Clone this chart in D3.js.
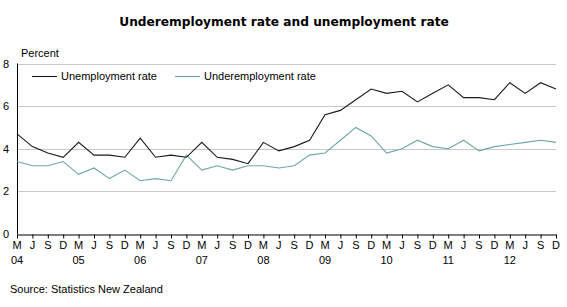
<!DOCTYPE html>
<html>
<head>
<meta charset="utf-8">
<script src="https://cdn.jsdelivr.net/npm/d3@7"></script>
<style>
  body { margin: 0; background: #fff; }
  text { font-family: "Liberation Sans", Arial, sans-serif; font-size: 11px; fill: #000; }
  .title { font-family: "DejaVu Sans", Verdana, sans-serif; font-weight: bold; font-size: 12.2px; }
</style>
</head>
<body>
<svg id="chart" width="567" height="307"></svg>
<script>
  // quarters Mar 2004 .. Dec 2012
  const quarters = ['M', 'J', 'S', 'D'];
  const years = ['04', '05', '06', '07', '08', '09', '10', '11', '12'];
  const yTicks = [0, 2, 4, 6, 8];

  const unemployment = [4.7, 4.1, 3.8, 3.6, 4.3, 3.7, 3.7, 3.6, 4.5, 3.6, 3.7, 3.6,
                        4.3, 3.6, 3.5, 3.3, 4.3, 3.9, 4.1, 4.4, 5.6, 5.8, 6.3, 6.8,
                        6.6, 6.7, 6.2, 6.6, 7.0, 6.4, 6.4, 6.3, 7.1, 6.6, 7.1, 6.8];
  const underemployment = [3.4, 3.2, 3.2, 3.4, 2.8, 3.1, 2.6, 3.0, 2.5, 2.6, 2.5, 3.7,
                           3.0, 3.2, 3.0, 3.2, 3.2, 3.1, 3.2, 3.7, 3.8, 4.4, 5.0, 4.6,
                           3.8, 4.0, 4.4, 4.1, 4.0, 4.4, 3.9, 4.1, 4.2, 4.3, 4.4, 4.3];

  const periods = [];
  years.forEach(y => quarters.forEach(q => periods.push(q + y)));

  const svg = d3.select('#chart');
  const plotLeft = 17, plotRight = 556, plotTop = 63.5, plotBottom = 234;

  const xScale = d3.scalePoint()
    .domain(periods)
    .range([plotLeft, plotRight]);

  const yScale = d3.scaleLinear()
    .domain([0, 8])
    .range([plotBottom, plotTop]);

  svg.append('text')
    .attr('class', 'title')
    .attr('x', 284)
    .attr('y', 26)
    .attr('text-anchor', 'middle')
    .text('Underemployment rate and unemployment rate');

  // gridlines
  svg.append('g')
    .selectAll('line')
    .data(yTicks.filter(d => d > 0))
    .enter()
    .append('line')
    .attr('x1', plotLeft)
    .attr('x2', plotRight)
    .attr('y1', d => Math.round(yScale(d)) + 0.5)
    .attr('y2', d => Math.round(yScale(d)) + 0.5)
    .attr('stroke', '#c8c8c8')
    .attr('stroke-width', 1);

  // y labels
  svg.append('g')
    .selectAll('text')
    .data(yTicks)
    .enter()
    .append('text')
    .attr('x', 3)
    .attr('y', d => yScale(d) + 4)
    .text(d => d);

  svg.append('text')
    .attr('x', 21)
    .attr('y', 57)
    .text('Percent');

  // y axis line
  svg.append('line')
    .attr('x1', plotLeft + 0.5).attr('x2', plotLeft + 0.5)
    .attr('y1', plotTop).attr('y2', plotBottom)
    .attr('stroke', '#000');

  // x axis
  const xAxis = svg.append('g')
    .attr('transform', `translate(0, ${plotBottom + 0.5})`)
    .call(d3.axisBottom(xScale).tickSize(4).tickSizeOuter(0).tickFormat(''));
  xAxis.select('.domain').attr('stroke', '#000');
  xAxis.selectAll('.tick line').attr('stroke', '#000');

  svg.append('g')
    .selectAll('text')
    .data(periods)
    .enter()
    .append('text')
    .attr('x', d => xScale(d))
    .attr('y', 249)
    .attr('text-anchor', 'middle')
    .text(d => d[0]);

  svg.append('g')
    .selectAll('text')
    .data(years)
    .enter()
    .append('text')
    .attr('x', d => xScale('M' + d))
    .attr('y', 264)
    .attr('text-anchor', 'middle')
    .text(d => d);

  const line = d3.line()
    .x((d, i) => xScale(periods[i]))
    .y(d => yScale(d));

  svg.append('path')
    .datum(underemployment)
    .attr('d', line)
    .attr('fill', 'none')
    .attr('stroke', '#6fa6a6')
    .attr('stroke-width', 1.1);

  svg.append('path')
    .datum(unemployment)
    .attr('d', line)
    .attr('fill', 'none')
    .attr('stroke', '#1a1a1a')
    .attr('stroke-width', 1.1);

  // legend
  const legend = [
    { name: 'Unemployment rate', color: '#1a1a1a', x: 32 },
    { name: 'Underemployment rate', color: '#6fa6a6', x: 175 }
  ];
  const lg = svg.append('g')
    .selectAll('g')
    .data(legend)
    .enter()
    .append('g')
    .attr('transform', d => `translate(${d.x}, 76)`);
  lg.append('line')
    .attr('x1', 0).attr('x2', 25)
    .attr('y1', 0.5).attr('y2', 0.5)
    .attr('stroke', d => d.color)
    .attr('stroke-width', 1.1);
  lg.append('text')
    .attr('x', 29)
    .attr('y', 4)
    .text(d => d.name);

  svg.append('text')
    .attr('x', 10)
    .attr('y', 293)
    .text('Source: Statistics New Zealand');
</script>
</body>
</html>
